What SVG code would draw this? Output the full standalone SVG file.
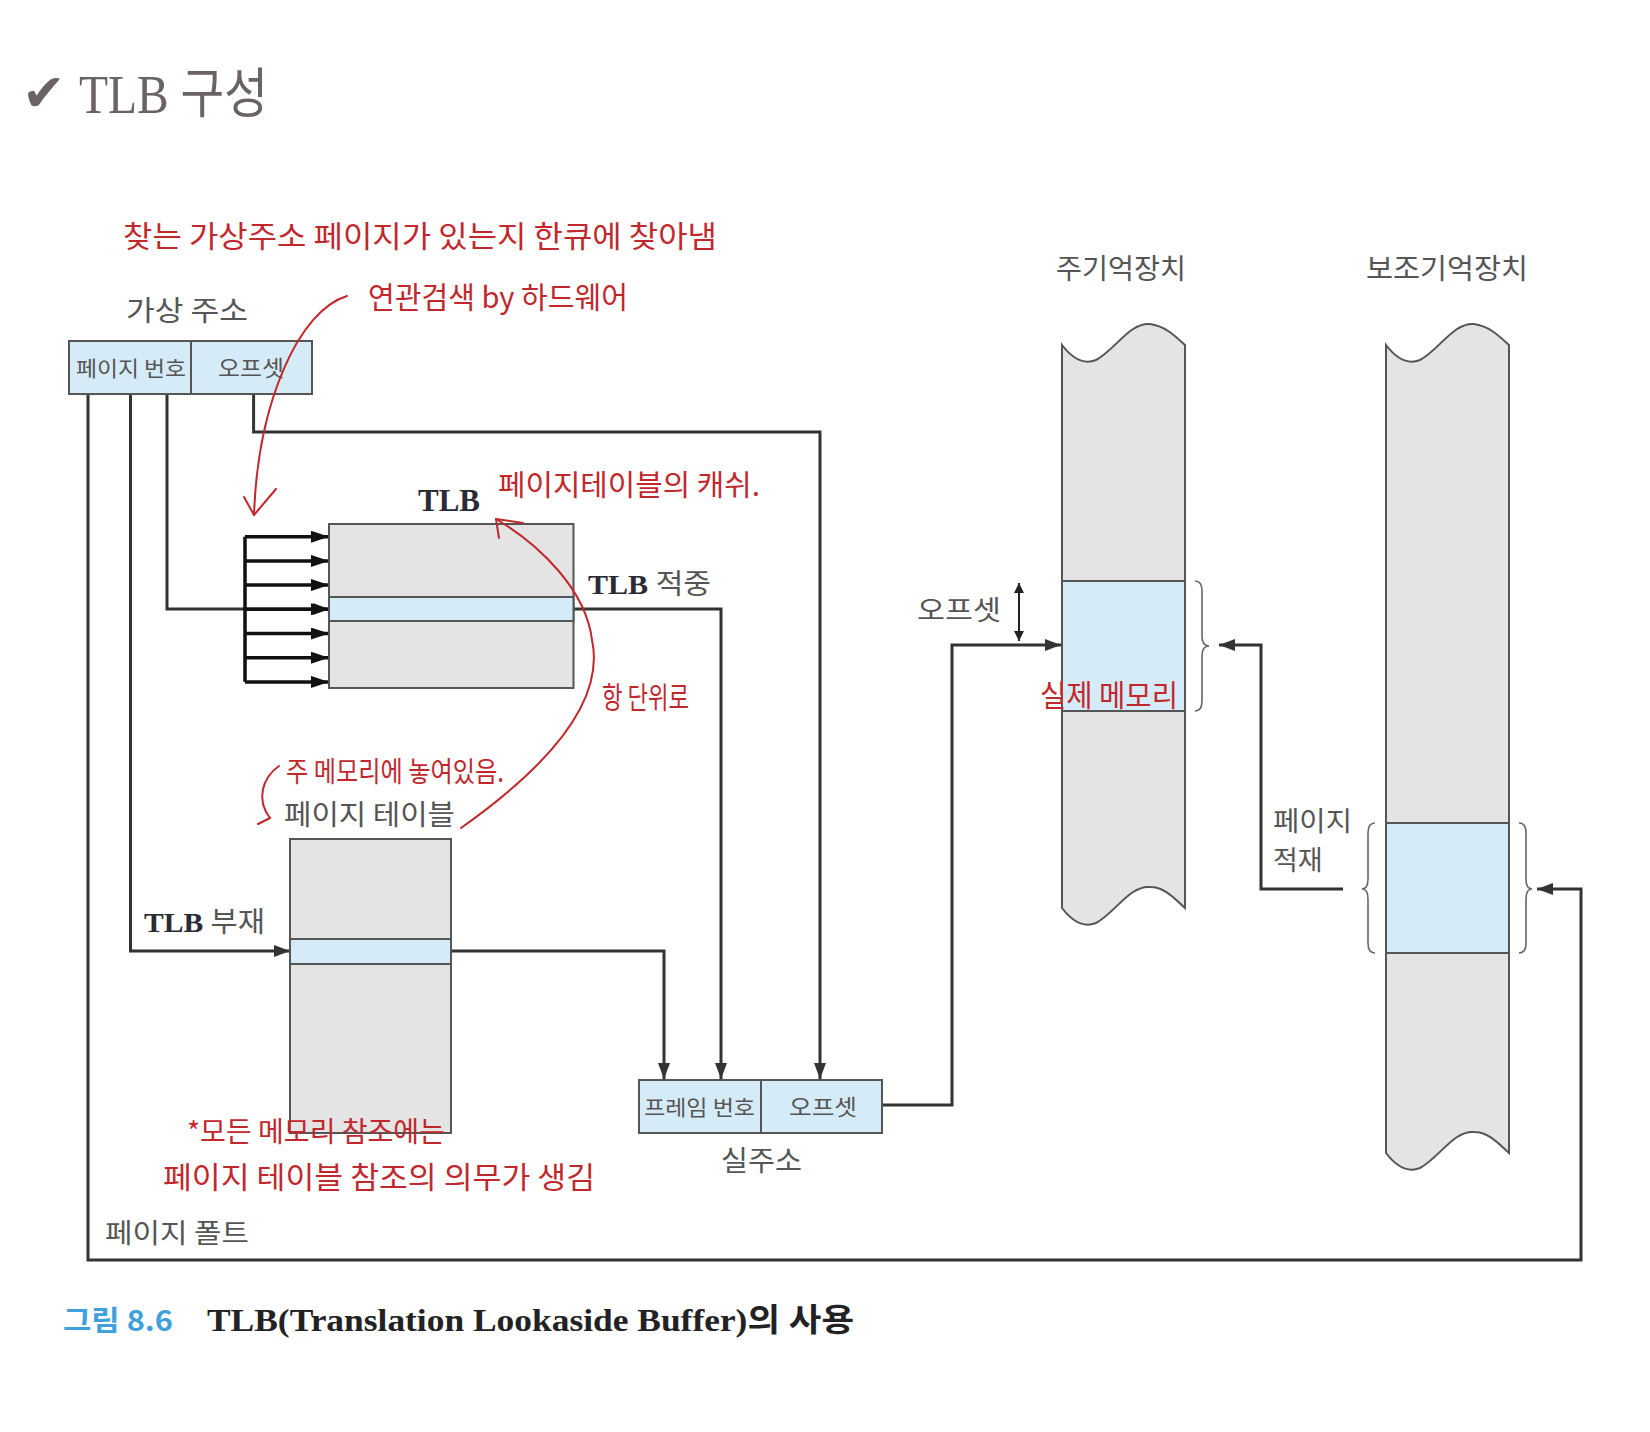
<svg xmlns="http://www.w3.org/2000/svg" width="1650" height="1432" viewBox="0 0 1650 1432">
<style>
.lbl{font-family:"Noto Sans CJK KR","Noto Sans",sans-serif;fill:#555;}
.tlb{font-family:"Liberation Serif","Noto Sans CJK KR",serif;fill:#2b2b35;font-weight:bold;}
.red{font-family:"Noto Sans CJK KR","Noto Sans",sans-serif;fill:#c1282d;}
.box{fill:#e4e4e4;stroke:#555;stroke-width:2;}
.va{fill:#d6ebf8;stroke:#555;stroke-width:2;}
.hl{fill:#d6ebf8;stroke:#555;stroke-width:2;}
.conn{fill:none;stroke:#333;stroke-width:3;}
.fan{fill:none;stroke:#111;stroke-width:3.5;}
.brace{fill:none;stroke:#666;stroke-width:1.6;}
.redline{fill:none;stroke:#c1282d;stroke-width:2;stroke-linecap:round;stroke-linejoin:round;}
</style>
<defs>
<marker id="ah" markerWidth="16" markerHeight="12" refX="16" refY="6" orient="auto" markerUnits="userSpaceOnUse"><path d="M0,0 L16,6 L0,12 z" fill="#333"/></marker>
<marker id="ahb" markerWidth="18" markerHeight="12" refX="18" refY="6" orient="auto" markerUnits="userSpaceOnUse"><path d="M0,0 L18,6 L0,12 z" fill="#111"/></marker>
<marker id="ahs" markerWidth="10" markerHeight="10" refX="10" refY="5" orient="auto-start-reverse" markerUnits="userSpaceOnUse"><path d="M0,0 L10,5 L0,10 z" fill="#222"/></marker>
</defs>
<rect width="1650" height="1432" fill="#fff"/>

<g id="title">
<text x="22" y="111" font-family="DejaVu Sans,sans-serif" font-size="52" fill="#6b6363">✔</text>
<text x="79" y="113" font-family="Liberation Serif,Noto Sans CJK KR,serif" font-size="54" fill="#6b6363" textLength="189" lengthAdjust="spacingAndGlyphs">TLB 구성</text>
</g>

<g id="connectors">
<path class="conn" d="M88 395 V1260 H1581 V889 H1537" marker-end="url(#ah)"/>
<path class="conn" d="M130.5 395 V951 H290" marker-end="url(#ah)"/>
<path class="conn" d="M167 395 V609 H329" marker-end="url(#ah)"/>
<path class="conn" d="M253.6 395 V432 H820 V1079" marker-end="url(#ah)"/>
<path class="conn" d="M573.5 609 H721 V1079" marker-end="url(#ah)"/>
<path class="conn" d="M451 951 H664 V1079" marker-end="url(#ah)"/>
<path class="conn" d="M882 1105 H952 V645 H1061" marker-end="url(#ah)"/>
<path class="conn" d="M1343 889 H1261 V645 H1219" marker-end="url(#ah)"/>
<path fill="none" stroke="#222" stroke-width="2" d="M1019 583 V641" marker-start="url(#ahs)" marker-end="url(#ahs)"/>
<g id="fan">
<path class="fan" d="M245 536.7 V681.9"/>
<path class="fan" d="M245 536.7 H329" marker-end="url(#ahb)"/>
<path class="fan" d="M245 560.9 H329" marker-end="url(#ahb)"/>
<path class="fan" d="M245 585.1 H329" marker-end="url(#ahb)"/>
<path class="fan" d="M245 609.3 H329" marker-end="url(#ahb)"/>
<path class="fan" d="M245 633.5 H329" marker-end="url(#ahb)"/>
<path class="fan" d="M245 657.7 H329" marker-end="url(#ahb)"/>
<path class="fan" d="M245 681.9 H329" marker-end="url(#ahb)"/>
</g>
</g>

<g id="virtual-address">
<rect class="va" x="69" y="341" width="243" height="53"/>
<line x1="191" y1="341" x2="191" y2="394" stroke="#555" stroke-width="2"/>
<text class="lbl" x="76" y="376" font-size="21" textLength="110" lengthAdjust="spacingAndGlyphs">페이지 번호</text>
<text class="lbl" x="218" y="376" font-size="22" textLength="66" lengthAdjust="spacingAndGlyphs">오프셋</text>
<text class="lbl" x="126" y="321" font-size="28" fill="#707070" textLength="122" lengthAdjust="spacingAndGlyphs">가상 주소</text>
</g>

<g id="tlb">
<rect class="box" x="329" y="524" width="244.5" height="164"/>
<rect class="hl" x="329" y="597" width="244.5" height="24"/>
<text class="tlb" x="449" y="511" font-size="31" text-anchor="middle">TLB</text>
<text class="tlb" x="588" y="594" font-size="28" textLength="123" lengthAdjust="spacingAndGlyphs">TLB <tspan class="lbl" font-weight="normal" font-size="28">적중</tspan></text>
</g>

<g id="page-table">
<rect class="box" x="290" y="839" width="161" height="294"/>
<rect class="hl" x="290" y="939" width="161" height="25"/>
<text class="lbl" x="284" y="825" font-size="28" textLength="171" lengthAdjust="spacingAndGlyphs">페이지 테이블</text>
<text class="tlb" x="144" y="932" font-size="28" textLength="121" lengthAdjust="spacingAndGlyphs">TLB <tspan class="lbl" font-weight="normal" font-size="28">부재</tspan></text>
</g>

<g id="real-address">
<rect class="va" x="639" y="1080" width="243" height="53"/>
<line x1="761" y1="1080" x2="761" y2="1133" stroke="#555" stroke-width="2"/>
<text class="lbl" x="644" y="1115" font-size="21" textLength="111" lengthAdjust="spacingAndGlyphs">프레임 번호</text>
<text class="lbl" x="789" y="1115" font-size="22" textLength="68" lengthAdjust="spacingAndGlyphs">오프셋</text>
<text class="lbl" x="721" y="1171" font-size="28" textLength="81" lengthAdjust="spacingAndGlyphs">실주소</text>
</g>

<g id="main-memory">
<path class="box" d="M1062 345 C1072 358 1084 365 1096 360 C1115 350 1130 322 1150 324 C1165 326 1175 336 1185 345 V908 C1175 899 1165 887 1150 887 C1130 885 1115 913 1096 923 C1084 928 1072 921 1062 908 Z"/>
<rect class="hl" x="1062" y="581" width="123" height="130"/>
<path class="brace" d="M1195 581 Q1202 581 1202 591 V636 Q1202 646 1209 646 Q1202 646 1202 656 V701 Q1202 711 1195 711"/>
<text class="lbl" x="1056" y="279" font-size="28" textLength="130" lengthAdjust="spacingAndGlyphs">주기억장치</text>
<text class="lbl" x="917" y="620" font-size="27" textLength="84" lengthAdjust="spacingAndGlyphs">오프셋</text>
</g>

<g id="secondary-memory">
<path class="box" d="M1386 345 C1396 358 1408 365 1420 360 C1439 350 1454 322 1474 324 C1489 326 1499 336 1509 345 V1153 C1499 1144 1489 1132 1474 1132 C1454 1130 1439 1158 1420 1168 C1408 1173 1396 1166 1386 1153 Z"/>
<rect class="hl" x="1386" y="823" width="123" height="130"/>
<path class="brace" d="M1375 823 Q1368 823 1368 833 V879 Q1368 889 1362 889 Q1368 889 1368 899 V943 Q1368 953 1375 953"/>
<path class="brace" d="M1519 823 Q1526 823 1526 833 V879 Q1526 889 1532 889 Q1526 889 1526 899 V943 Q1526 953 1519 953"/>
<text class="lbl" x="1366" y="279" font-size="28" textLength="162" lengthAdjust="spacingAndGlyphs">보조기억장치</text>
<text class="lbl" x="1273" y="831" font-size="27" textLength="79" lengthAdjust="spacingAndGlyphs">페이지</text>
<text class="lbl" x="1273" y="870" font-size="27">적재</text>
<text class="lbl" x="105" y="1243" font-size="27" textLength="144" lengthAdjust="spacingAndGlyphs">페이지 폴트</text>
</g>

<g id="annotations">
<text class="red" x="123" y="247" font-size="30" textLength="594" lengthAdjust="spacingAndGlyphs">찾는 가상주소 페이지가 있는지 한큐에 찾아냄</text>
<text class="red" x="368" y="308" font-size="30" textLength="260" lengthAdjust="spacingAndGlyphs">연관검색 by 하드웨어</text>
<text class="red" x="498" y="496" font-size="29" textLength="262" lengthAdjust="spacingAndGlyphs">페이지테이블의 캐쉬.</text>
<text class="red" x="602" y="708" font-size="30" textLength="87" lengthAdjust="spacingAndGlyphs">항 단위로</text>
<text class="red" x="286" y="782" font-size="28" textLength="218" lengthAdjust="spacingAndGlyphs">주 메모리에 놓여있음.</text>
<text class="red" x="1040" y="706" font-size="30" textLength="138" lengthAdjust="spacingAndGlyphs">실제 메모리</text>
<text class="red" x="187" y="1142" font-size="28" textLength="258" lengthAdjust="spacingAndGlyphs">*모든 메모리 참조에는</text>
<text class="red" x="163" y="1188" font-size="30" textLength="432" lengthAdjust="spacingAndGlyphs">페이지 테이블 참조의 의무가 생김</text>
<path class="redline" d="M347 296 C300 310 258 400 254 515"/>
<path class="redline" d="M244 497 L254 515 L276 489"/>
<path class="redline" d="M461 828 C550 765 605 700 592 640 C586 590 540 545 496 519"/>
<path class="redline" d="M523 523 L496 519 L499 538"/>
<path class="redline" d="M279 766 C262 778 256 800 270 818"/>
<path class="redline" d="M258 824 L270 818"/>
</g>

<g id="caption">
<text x="63" y="1331" font-family="Noto Sans CJK KR,Noto Sans,sans-serif" font-size="28" font-weight="bold" fill="#3fa0dc" textLength="110" lengthAdjust="spacingAndGlyphs">그림 8.6</text>
<text x="207" y="1331" font-family="Liberation Serif,Noto Sans CJK KR,serif" font-size="32" font-weight="bold" fill="#222" textLength="647" lengthAdjust="spacingAndGlyphs">TLB(Translation Lookaside Buffer)의 사용</text>
</g>
</svg>
